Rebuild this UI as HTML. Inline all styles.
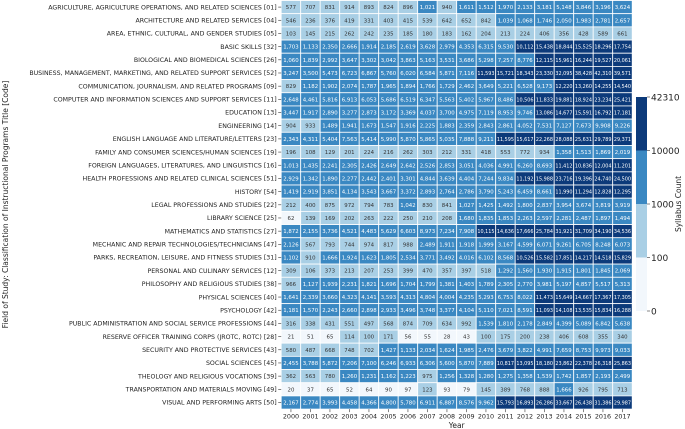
<!DOCTYPE html>
<html><head><meta charset="utf-8"><style>
html,body{margin:0;padding:0;background:#fff;width:685px;height:429px;overflow:hidden}
svg text{font-family:"DejaVu Sans","Liberation Sans",sans-serif}
</style></head><body>
<svg id="chart" width="685" height="429" viewBox="0 0 685 429" xmlns="http://www.w3.org/2000/svg"></svg>
<script>
const years=["2000","2001","2002","2003","2004","2005","2006","2007","2008","2009","2010","2011","2012","2013","2014","2015","2016","2017"];
const fields=["AGRICULTURE, AGRICULTURE OPERATIONS, AND RELATED SCIENCES [01]","ARCHITECTURE AND RELATED SERVICES [04]","AREA, ETHNIC, CULTURAL, AND GENDER STUDIES [05]","BASIC SKILLS [32]","BIOLOGICAL AND BIOMEDICAL SCIENCES [26]","BUSINESS, MANAGEMENT, MARKETING, AND RELATED SUPPORT SERVICES [52]","COMMUNICATION, JOURNALISM, AND RELATED PROGRAMS [09]","COMPUTER AND INFORMATION SCIENCES AND SUPPORT SERVICES [11]","EDUCATION [13]","ENGINEERING [14]","ENGLISH LANGUAGE AND LITERATURE/LETTERS [23]","FAMILY AND CONSUMER SCIENCES/HUMAN SCIENCES [19]","FOREIGN LANGUAGES, LITERATURES, AND LINGUISTICS [16]","HEALTH PROFESSIONS AND RELATED CLINICAL SCIENCES [51]","HISTORY [54]","LEGAL PROFESSIONS AND STUDIES [22]","LIBRARY SCIENCE [25]","MATHEMATICS AND STATISTICS [27]","MECHANIC AND REPAIR TECHNOLOGIES/TECHNICIANS [47]","PARKS, RECREATION, LEISURE, AND FITNESS STUDIES [31]","PERSONAL AND CULINARY SERVICES [12]","PHILOSOPHY AND RELIGIOUS STUDIES [38]","PHYSICAL SCIENCES [40]","PSYCHOLOGY [42]","PUBLIC ADMINISTRATION AND SOCIAL SERVICE PROFESSIONS [44]","RESERVE OFFICER TRAINING CORPS (JROTC, ROTC) [28]","SECURITY AND PROTECTIVE SERVICES [43]","SOCIAL SCIENCES [45]","THEOLOGY AND RELIGIOUS VOCATIONS [39]","TRANSPORTATION AND MATERIALS MOVING [49]","VISUAL AND PERFORMING ARTS [50]"];
const counts=[
[577,707,831,914,893,824,896,1021,940,1611,1512,1970,2133,3181,5148,3846,3196,3624],
[546,236,376,419,331,403,415,539,642,652,842,1039,1068,1746,2050,1983,2781,2657],
[103,145,215,262,242,235,185,180,183,162,204,213,224,406,356,428,589,661],
[1703,1133,2350,2666,1914,2185,2619,3628,2979,4353,6315,9530,10112,15438,18844,15525,18296,17754],
[1060,1839,2992,3647,3302,3042,3863,5163,3531,3686,5298,7257,8776,12115,15961,16244,19527,20061],
[3247,3500,5473,6723,6867,5760,6020,6584,5871,7116,11593,15721,18343,23330,32095,38428,42310,39571],
[829,1182,1902,2074,1787,1965,1894,1766,1729,2462,3649,5221,6528,9173,12220,13260,14255,14540],
[2648,4461,5816,6913,6053,5686,6519,6347,5563,5402,5967,8486,10506,11833,19881,18924,23234,25421],
[3447,1917,2890,3277,2873,3172,3369,4037,3700,4975,7119,8953,9746,13086,14677,15591,16792,17181],
[904,933,1489,1941,1673,1547,1916,2225,1883,2359,2843,2861,4052,7531,7127,7673,9908,9226],
[2343,4311,5404,7563,5414,5990,5870,5865,5035,7888,9211,11595,15617,22268,28088,25631,29789,29371],
[196,108,129,201,224,216,262,303,212,331,418,553,772,934,1358,1513,1869,2019],
[1013,1435,2241,2305,2426,2649,2642,2526,2853,3051,4036,4991,6260,8693,11412,10836,12004,11201],
[2929,1342,1890,2277,2442,2401,3301,4844,3639,4404,7244,9834,11192,15988,23716,19396,24740,24500],
[1419,2919,3851,4134,3543,3667,3372,2893,2764,2786,3790,5243,6459,8661,11990,11294,12828,12295],
[212,400,875,972,794,783,1042,830,841,1027,1425,1492,1800,2837,3954,3674,3819,3919],
[62,139,169,202,263,222,250,210,208,1680,1835,1853,2263,2597,2281,2487,1897,1494],
[1872,2155,3736,4521,4483,5629,6603,8973,7234,7908,10115,14636,17666,25784,31921,31709,34190,34536],
[2126,567,793,744,974,817,988,2489,1911,1918,1999,3167,4599,6071,9261,6705,8248,6073],
[1102,910,1666,1924,1623,1805,2534,3771,3492,4016,6102,8568,10526,15582,17851,14217,14518,15829],
[309,106,373,213,207,253,399,470,357,397,518,1292,1560,1930,1915,1801,1845,2069],
[966,1127,1939,2231,1821,1696,1704,1799,1381,1403,1789,2305,2770,3981,5197,4857,5517,5313],
[1641,2339,3660,4323,4141,3593,4313,4804,4004,4235,5293,6753,8022,11473,15649,14667,17367,17305],
[1181,1570,2243,2660,2898,2933,3496,3748,3377,4104,5110,7021,8591,11093,14108,13535,15834,16288],
[316,338,431,551,497,568,874,709,634,992,1539,1810,2178,2849,4399,5089,6842,5638],
[21,51,65,114,100,171,56,55,28,43,100,175,200,238,406,608,355,340],
[580,487,668,748,702,1427,1133,2034,1624,1985,2476,3679,3822,4991,7659,8753,9973,9033],
[2455,3788,5872,7206,7100,6246,6933,6306,5600,5870,7889,10817,13095,18180,23862,22378,26318,25863],
[362,563,780,1260,1231,1162,1223,975,1256,1328,1280,1275,1358,1539,1742,1857,2193,2499],
[20,37,65,52,64,90,97,123,93,79,145,389,768,888,1666,926,795,713],
[2167,2774,3993,4458,4366,4800,5780,6911,6887,8576,9962,15793,16893,26286,33667,26438,31386,29987]];
const binEdges=[0,100,1000,10000,42310];
const binLabels=["0","100","1000","10000","42310"];
const binColors=["#f2f7fc","#a9cfe5","#3a88c2","#0c3a7a"];

const NS="http://www.w3.org/2000/svg";
const svg=document.getElementById("chart");
const X0=281.2,CW=19.5,Y0=0.5,RH=13.18;
function xPos(i){return X0+i*CW;}
function yPos(j){return Y0+j*RH;}
function bin(v){let b=0;for(let k=1;k<binEdges.length-1;k++){if(v>=binEdges[k])b=k;}return b;}
function mk(tag,attrs,txt){const e=document.createElementNS(NS,tag);for(const k in attrs)e.setAttribute(k,attrs[k]);if(txt!==undefined)e.textContent=txt;svg.appendChild(e);return e;}

counts.forEach((row,j)=>{
  row.forEach((v,i)=>{
    const b=bin(v);
    const r=mk("rect",{x:xPos(i),y:yPos(j),width:CW,height:RH,fill:binColors[b],stroke:"#fff","stroke-width":0.8});
    
    
    const t=mk("text",{x:xPos(i)+CW/2,y:yPos(j)+RH/2+2,"text-anchor":"middle","font-size":v>=10000?4.9:5.4,fill:b>=2?"#fff":"#333"},v.toLocaleString("en-US"));
    
    
  });
});
fields.forEach((f,j)=>{
  const y=yPos(j)+RH/2;
  const tk=mk("line",{x1:X0-3,x2:X0,y1:y,y2:y,stroke:"#333","stroke-width":0.6});
  
  
  const t=mk("text",{x:X0-4.5,y:y+2.2,"text-anchor":"end","font-size":6.25,fill:"#222"},f);
  
  
});
const yBottom=yPos(counts.length);
years.forEach((yr,i)=>{
  const x=xPos(i)+CW/2;
  const tk=mk("line",{x1:x,x2:x,y1:yBottom,y2:yBottom+3,stroke:"#333","stroke-width":0.6});
  
  
  const t=mk("text",{x:x,y:yBottom+9.5,"text-anchor":"middle","font-size":6.4,fill:"#222"},yr);
  
  
});
const xt=mk("text",{x:xPos(9),y:428,"text-anchor":"middle","font-size":7.5,fill:"#222"},"Year");


const yt=mk("text",{x:0,y:0,transform:"translate(8,"+(yBottom/2)+") rotate(-90)","text-anchor":"middle","font-size":7.5,fill:"#222"},"Field of Study: Classification of Instructional Programs Title [Code]");



// colorbar
const CBX=636,CBW=11,CBT=97,CBS=53.5;
for(let k=0;k<binColors.length;k++){
  const top=CBT+(binColors.length-1-k)*CBS;
  const r=mk("rect",{x:CBX,y:top,width:CBW,height:CBS,fill:binColors[k]});
  
  
}
binLabels.forEach((lab,k)=>{
  const y=CBT+(binLabels.length-1-k)*CBS;
  const tk=mk("line",{x1:CBX+CBW,x2:CBX+CBW+3,y1:y,y2:y,stroke:"#333","stroke-width":0.6});
  
  
  const t=mk("text",{x:CBX+CBW+4,y:y+3.5,"font-size":9,fill:"#222"},lab);
  
  
});
const ct=mk("text",{x:0,y:0,transform:"translate(681,"+(CBT+2*CBS)+") rotate(-90)","text-anchor":"middle","font-size":7.5,fill:"#222"},"Syllabus Count");


</script>
</body></html>
